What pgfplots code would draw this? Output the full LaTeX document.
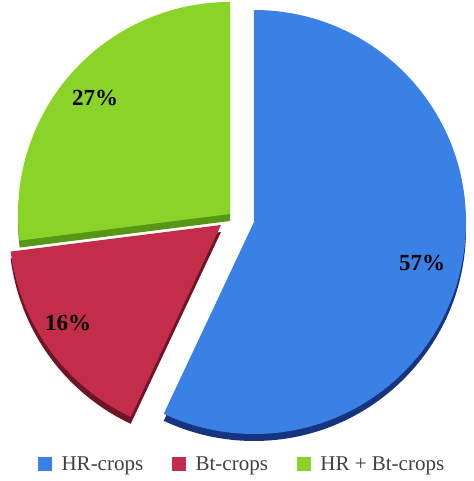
\documentclass[border=0pt]{standalone}
\usepackage{pgfplots}
\usepackage{pgfplotstable}
\pgfplotsset{compat=1.18}
\usepackage{fontspec}
\setmainfont{Liberation Serif}

\definecolor{hrblue}{RGB}{58,129,229}
\definecolor{hrbluedk}{RGB}{22,52,128}
\definecolor{btred}{RGB}{196,45,74}
\definecolor{btreddk}{RGB}{112,20,38}
\definecolor{mixgreen}{RGB}{138,212,42}
\definecolor{mixgreendk}{RGB}{88,150,22}

% share of each crop group, percent
\pgfplotstableread{
group value
HR   57
Bt   16
HRBt 27
}\piedata

\begin{document}
\begin{tikzpicture}
    \pgfplotstablegetelem{0}{value}\of\piedata \let\va\pgfplotsretval
    \pgfplotstablegetelem{1}{value}\of\piedata \let\vb\pgfplotsretval
    \pgfplotstablegetelem{2}{value}\of\piedata \let\vc\pgfplotsretval
    % slices run clockwise from twelve o'clock
    \pgfmathsetmacro\aA{90}
    \pgfmathsetmacro\aB{\aA-3.6*\va}
    \pgfmathsetmacro\aC{\aB-3.6*\vb}
    \pgfmathsetmacro\aD{\aC-3.6*\vc}
    \def\rr{212bp}
    \begin{axis}[
        width=474bp, height=481bp, scale only axis,
        xmin=0, xmax=474, ymin=0, ymax=481,
        hide axis, clip=false,
        legend columns=3,
        legend image code/.code={\fill[#1] (0bp,-6.5bp) rectangle (13bp,6.5bp);},
        legend style={
            draw=none, fill=none,
            at={(axis cs:35,17)}, anchor=west,
            text=black!75,
            font=\fontsize{21bp}{24bp}\selectfont,
            nodes={inner sep=0pt},
            /tikz/every odd column/.append style={column sep=10bp},
            /tikz/every even column/.append style={column sep=29bp},
        },
    ]
        % 3D side of each slice
        \fill[hrbluedk] (axis cs:254,252) -- ++(\aA:\rr) arc[start angle=\aA, end angle=\aB, radius=\rr] -- cycle;
        \fill[btreddk] (axis cs:221,249) -- ++(\aB:\rr) arc[start angle=\aB, end angle=\aC, radius=\rr] -- cycle;
        \fill[mixgreendk] (axis cs:230,260) -- ++(\aC:\rr) arc[start angle=\aC, end angle=\aD, radius=\rr] -- cycle;
        % top faces
        \fill[hrblue] (axis cs:254,259) -- ++(\aA:\rr) arc[start angle=\aA, end angle=\aB, radius=\rr] -- cycle;
        \fill[btred] (axis cs:221,256) -- ++(\aB:\rr) arc[start angle=\aB, end angle=\aC, radius=\rr] -- cycle;
        \fill[mixgreen] (axis cs:230,267) -- ++(\aC:\rr) arc[start angle=\aC, end angle=\aD, radius=\rr] -- cycle;

        \node[font=\bfseries\fontsize{23bp}{26bp}\selectfont] at (axis cs:422,218) {57\%};
        \node[font=\bfseries\fontsize{23bp}{26bp}\selectfont] at (axis cs:68,158) {16\%};
        \node[font=\bfseries\fontsize{23bp}{26bp}\selectfont] at (axis cs:95,383) {27\%};

        \addlegendimage{hrblue}
        \addlegendentry{HR-crops}
        \addlegendimage{btred}
        \addlegendentry{Bt-crops}
        \addlegendimage{mixgreen}
        \addlegendentry{HR + Bt-crops}
    \end{axis}
    \pgfresetboundingbox
    \path (current axis.south west) rectangle (current axis.north east);
\end{tikzpicture}
\end{document}
